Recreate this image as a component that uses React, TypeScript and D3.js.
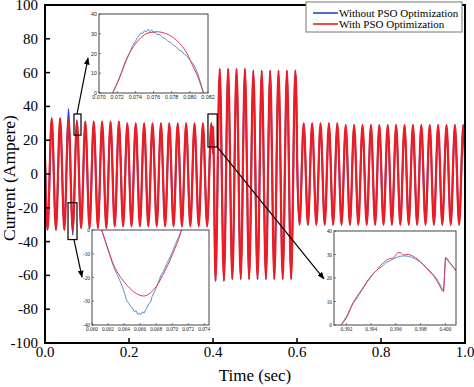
import React from "react";
import * as d3 from "d3";

// ---------- DATA ----------
// main waveform: alternating trough/peak values, first trough at 0.006 s, one extremum every 0.01 s
const firstExtremum = 0.006;
const halfPeriod = 0.01;
const redSeg1 = [-33,33, -33,33, -33,32, -33,31, -32,31, -32,31, -32,31, -32,31, -31,31, -31,30, -31,30, -31,30, -31,30, -31,30, -31,30, -31,30, -31,30, -31,30, -31,30, -31,30];
const blueSeg1 = [-33,33, -33,33, -33,38.5, -36,32, -32,31, -32,31, -32,31, -32,31, -31,31, -31,30, -31,30, -31,30, -31,30, -31,30, -31,30, -31,30, -31,30, -31,30, -31,30, -31,30];
const redSeg2 = [-63,62, -63,62, -62,62, -62,62, -62,61, -62,61, -62,61, -62,61, -62,61, -62,61];
const blueSeg2 = [-63.5,62.5, -63.5,62.5, -62.5,62.5, -62.5,62.5, -62.5,61.5, -62.5,61.5, -62.5,61.5, -62.5,61.5, -62.5,61.5, -62.5,61.5];
const redSeg3 = [-30,30, -30,30, -30,30, -30,30, -30,30, -30,29, -30,29, -30,29, -30,29, -30,29, -30,29, -30,29, -30,29, -30,29, -30,29, -30,29, -30,29, -30,29, -30,29, -30,29];
const blueSeg3 = [-30,30, -30,30, -30,30, -30,30, -30,30, -30,29, -30,29, -30,29, -30,29, -30,29, -30,29, -30,29, -30,29, -30,29, -30,29, -30,29, -30,29, -30,29, -30,29, -30,29];
// edge / switching points [t, value]
const redStart: [number, number] = [0, 10];
const redSwitch1: [number, number][] = [[0.4, 12], [0.4003, 28]];
const redSwitch2: [number, number][] = [[0.6, 19], [0.6003, 9]];
const redEnd: [number, number] = [1.0, 9];

const xTicks = [0.0, 0.2, 0.4, 0.6, 0.8, 1.0];
const yTicks = [-100, -80, -60, -40, -20, 0, 20, 40, 60, 80, 100];

// zoom boxes in data coords [t0, t1, vTop, vBottom]
const boxes: [number, number, number, number][] = [
  [0.069, 0.0857, 35.5, 23],
  [0.0548, 0.0762, -17, -38.8],
  [0.388, 0.410, 35.5, 16],
];
// arrows [t0, v0, t1, v1]
const arrows: [number, number, number, number][] = [
  [0.0762, 35.5, 0.1024, 68.6],
  [0.069, -38.8, 0.0881, -61],
  [0.410, 16, 0.664, -62],
];

// insets
const topRed: [number, number][] = [[0.0715,0],[0.0722,7],[0.0730,17],[0.0738,23.5],[0.0746,28],[0.0755,30.5],[0.0764,31],[0.0774,30],[0.0782,28],[0.0789,25],[0.0797,20],[0.0803,14],[0.0809,8],[0.0815,0]];
const topBlue: [number, number][] = [[0.0715,0],[0.0720,5],[0.0725,10.5],[0.0730,16.5],[0.0734,20.5],[0.0737,24],[0.0740,26],[0.0742,28],[0.0744,29],[0.0746,30.5],[0.0748,30],[0.0750,31.5],[0.0752,31],[0.0754,32.3],[0.0756,31],[0.0758,32],[0.0760,30.5],[0.0762,30.8],[0.0764,29.5],[0.0767,29.6],[0.0770,28],[0.0773,27.6],[0.0776,26.2],[0.0779,25.6],[0.0782,24.2],[0.0785,23.4],[0.0788,21.8],[0.0791,21.2],[0.0794,19.5],[0.0797,18.6],[0.0800,16.8],[0.0803,15.2],[0.0806,12.8],[0.0809,9.5],[0.0812,5],[0.0815,0]];
const topXTicks = [0.070, 0.072, 0.074, 0.076, 0.078, 0.080, 0.082];
const topYTicks = [0, 10, 20, 30, 40];

const blRed: [number, number][] = [[0.06121,0],[0.0620,-8],[0.0627,-14.7],[0.0635,-19.5],[0.0643,-23],[0.0652,-26],[0.0660,-27.5],[0.0665,-27.8],[0.0670,-27.2],[0.0676,-25.5],[0.0681,-23.5],[0.0688,-19.2],[0.0695,-14.5],[0.0702,-9],[0.0708,-4],[0.07117,0]];
const blBlue: [number, number][] = [[0.06121,0],[0.0620,-8.5],[0.0627,-15.5],[0.0631,-18.5],[0.0635,-21.5],[0.0638,-24],[0.0641,-27],[0.0643,-29.5],[0.0646,-31],[0.0649,-32.5],[0.0651,-33],[0.0653,-34.5],[0.0655,-34],[0.0657,-35.5],[0.0659,-35],[0.0661,-35.7],[0.0663,-34.5],[0.0665,-35],[0.0667,-33.5],[0.0669,-32.5],[0.0671,-31],[0.0673,-30.5],[0.0675,-28],[0.0678,-26],[0.0681,-23.5],[0.0684,-21],[0.0686,-19],[0.0689,-17.5],[0.0692,-15.2],[0.0695,-13],[0.0698,-11],[0.0701,-8.5],[0.0704,-6],[0.0708,-3],[0.07117,0]];
const blXTicks = [0.060, 0.062, 0.064, 0.066, 0.068, 0.070, 0.072, 0.074];
const blYTicks = [-40, -30, -20, -10, 0];

const brRed: [number, number][] = [[0.39157,0],[0.3920,3],[0.39259,9.9],[0.3931,14],[0.39367,18.4],[0.3941,21.5],[0.39448,23.4],[0.3948,25.5],[0.39515,27.2],[0.3954,28],[0.39556,28.3],[0.3958,28.5],[0.3960,29.8],[0.39623,30.9],[0.39645,30.5],[0.39663,29.8],[0.3970,30],[0.3973,29.5],[0.3976,28.6],[0.39797,27],[0.39825,25.5],[0.39851,24],[0.39885,22],[0.39918,20],[0.3995,17],[0.39985,14.2],[0.40002,28.8],[0.4003,27],[0.4006,25],[0.4009,23]];
const brBlue: [number, number][] = [[0.39157,0],[0.3920,3.5],[0.3925,9],[0.3928,11],[0.3931,13.5],[0.3934,16],[0.3937,18.5],[0.3940,20.5],[0.3943,22.5],[0.3946,24],[0.3949,25],[0.3952,26.5],[0.3955,27.3],[0.3958,28.2],[0.3961,28.8],[0.3964,29.3],[0.3967,29.4],[0.3970,29.2],[0.3973,28.8],[0.3976,28],[0.3979,27],[0.3982,25.8],[0.3985,24.2],[0.3988,22.7],[0.3991,21],[0.3994,18.8],[0.3997,16],[0.39985,14.5],[0.40002,28.5],[0.4003,26.8],[0.4006,24.8],[0.4009,22.8]];
const brXTicks = [0.392, 0.394, 0.396, 0.398, 0.400];
const brYTicks = [0, 10, 20, 30, 40];

// ---------- LAYOUT ----------
const W = 474, H = 387;
const M = { left: 45, right: 465, top: 5, bottom: 343 };
const RED = "#ec1c24";
const BLUE = "#2747c4";
const IRED = "#d23a5e";
const IBLUE = "#4f86c6";
const SERIF = "'Liberation Serif', 'Times New Roman', serif";
const SANS = "'Liberation Sans', Arial, sans-serif";

function buildSeries(seg1: number[], seg2: number[], seg3: number[]): [number, number][] {
  const pts: [number, number][] = [redStart];
  const all = [...seg1, ...seg2, ...seg3];
  const n1 = seg1.length, n2 = seg2.length;
  all.forEach((v, i) => {
    const t = firstExtremum + halfPeriod * i;
    if (i === n1) pts.push(...redSwitch1);
    if (i === n1 + n2) pts.push(...redSwitch2);
    pts.push([t, v]);
  });
  pts.push(redEnd);
  return pts;
}

type InsetProps = {
  id: string; x0: number; x1: number; y0: number; y1: number;
  xd: [number, number]; yd: [number, number];
  red: [number, number][]; blue: [number, number][];
  xt: number[]; yt: number[]; font: string; dec: number;
};

function Inset(p: InsetProps) {
  const xs = d3.scaleLinear().domain(p.xd).range([p.x0, p.x1]);
  const ys = d3.scaleLinear().domain(p.yd).range([p.y1, p.y0]);
  const lRed = d3.line<[number, number]>().x(d => xs(d[0])).y(d => ys(d[1])).curve(d3.curveMonotoneX);
  const lBlue = d3.line<[number, number]>().x(d => xs(d[0])).y(d => ys(d[1]));
  return (
    <g>
      <rect x={p.x0} y={p.y0} width={p.x1 - p.x0} height={p.y1 - p.y0} fill="#fff" />
      <clipPath id={p.id}><rect x={p.x0} y={p.y0} width={p.x1 - p.x0} height={p.y1 - p.y0} /></clipPath>
      <g clipPath={`url(#${p.id})`}>
        <path d={lBlue(p.blue) || ""} fill="none" stroke={IBLUE} strokeWidth={0.9} />
        <path d={lRed(p.red) || ""} fill="none" stroke={IRED} strokeWidth={1} />
      </g>
      <rect x={p.x0} y={p.y0} width={p.x1 - p.x0} height={p.y1 - p.y0} fill="none" stroke="#444" strokeWidth={1} />
      {p.xt.map(t => (
        <g key={"x" + t}>
          <line x1={xs(t)} x2={xs(t)} y1={p.y1} y2={p.y1 - 2} stroke="#444" strokeWidth={0.7} />
          <text x={xs(t)} y={p.y1 + 6} fontSize={5.3} fontFamily={p.font} textAnchor="middle" fill="#222">{t.toFixed(p.dec)}</text>
        </g>
      ))}
      {p.yt.map(v => (
        <g key={"y" + v}>
          <line x1={p.x0} x2={p.x0 + 2} y1={ys(v)} y2={ys(v)} stroke="#444" strokeWidth={0.7} />
          <text x={p.x0 - 2} y={ys(v) + 2} fontSize={5.3} fontFamily={p.font} textAnchor="end" fill="#222">{v}</text>
        </g>
      ))}
    </g>
  );
}

export default function App() {
  const x = d3.scaleLinear().domain([0, 1]).range([M.left, M.right]);
  const y = d3.scaleLinear().domain([-100, 100]).range([M.bottom, M.top]);
  const line = d3.line<[number, number]>().x(d => x(d[0])).y(d => y(d[1])).curve(d3.curveMonotoneX);
  const red = buildSeries(redSeg1, redSeg2, redSeg3);
  const blue = buildSeries(blueSeg1, blueSeg2, blueSeg3);

  return (
    <svg width={W} height={H} style={{ position: "absolute", left: 0, top: 0, background: "#fff" }}>
      <defs>
        <clipPath id="mainclip"><rect x={M.left} y={M.top} width={M.right - M.left} height={M.bottom - M.top} /></clipPath>
        <marker id="arr" viewBox="0 0 10 10" refX="9" refY="5" markerWidth="6" markerHeight="6" orient="auto">
          <path d="M0,1 L10,5 L0,9 z" fill="#000" />
        </marker>
      </defs>
      <g clipPath="url(#mainclip)">
        <path d={line(blue) || ""} fill="none" stroke={BLUE} strokeWidth={1.8} />
        <path d={line(red) || ""} fill="none" stroke={RED} strokeWidth={2.2} />
      </g>

      {/* zoom boxes */}
      {boxes.map((b, i) => (
        <rect key={i} x={x(b[0])} y={y(b[2])} width={x(b[1]) - x(b[0])} height={y(b[3]) - y(b[2])} fill="none" stroke="#000" strokeWidth={1.2} />
      ))}
      {arrows.map((a, i) => (
        <line key={i} x1={x(a[0])} y1={y(a[1])} x2={x(a[2])} y2={y(a[3])} stroke="#000" strokeWidth={1.2} markerEnd="url(#arr)" />
      ))}

      <Inset id="ti" x0={99} x1={208} y0={14} y1={93} xd={[0.070, 0.082]} yd={[0, 40]} red={topRed} blue={topBlue} xt={topXTicks} yt={topYTicks} font={SANS} dec={3} />
      <Inset id="bli" x0={92} x1={209} y0={230} y1={325} xd={[0.060, 0.0746]} yd={[-40, 0]} red={blRed} blue={blBlue} xt={blXTicks} yt={blYTicks} font={SERIF} dec={3} />
      <Inset id="bri" x0={334} x1={456} y0={231} y1={325} xd={[0.391, 0.40086]} yd={[0, 40]} red={brRed} blue={brBlue} xt={brXTicks} yt={brYTicks} font={SERIF} dec={3} />

      {/* frame */}
      <rect x={M.left} y={M.top} width={M.right - M.left} height={M.bottom - M.top} fill="none" stroke="#000" strokeWidth={2} />
      {xTicks.map(t => (
        <g key={"xt" + t}>
          <line x1={x(t)} x2={x(t)} y1={M.bottom} y2={M.bottom - 5} stroke="#000" strokeWidth={1.5} />
          <text x={x(t)} y={357} fontSize={15} fontFamily={SERIF} textAnchor="middle">{t.toFixed(1)}</text>
        </g>
      ))}
      {yTicks.map(v => (
        <g key={"yt" + v}>
          <line x1={M.left} x2={M.left + 5} y1={y(v)} y2={y(v)} stroke="#000" strokeWidth={1.5} />
          <text x={38} y={y(v) + 5} fontSize={15} fontFamily={SERIF} textAnchor="end">{v}</text>
        </g>
      ))}
      <text x={(M.left + M.right) / 2} y={381} fontSize={17} fontFamily={SERIF} textAnchor="middle">Time (sec)</text>
      <text transform={`translate(15,${(M.top + M.bottom) / 2 + 4}) rotate(-90)`} fontSize={17.5} fontFamily={SERIF} textAnchor="middle">Current (Ampere)</text>

      {/* legend */}
      <rect x={306} y={2} width={156} height={30} fill="#fff" stroke="#777" strokeWidth={1} />
      <line x1={313} x2={338} y1={13} y2={13} stroke={BLUE} strokeWidth={1.6} />
      <line x1={313} x2={338} y1={24} y2={24} stroke={RED} strokeWidth={1.6} />
      <text x={339} y={17} fontSize={11} fontFamily={SERIF}>Without PSO Optimization</text>
      <text x={339} y={28} fontSize={11} fontFamily={SERIF}>With PSO Optimization</text>
    </svg>
  );
}
